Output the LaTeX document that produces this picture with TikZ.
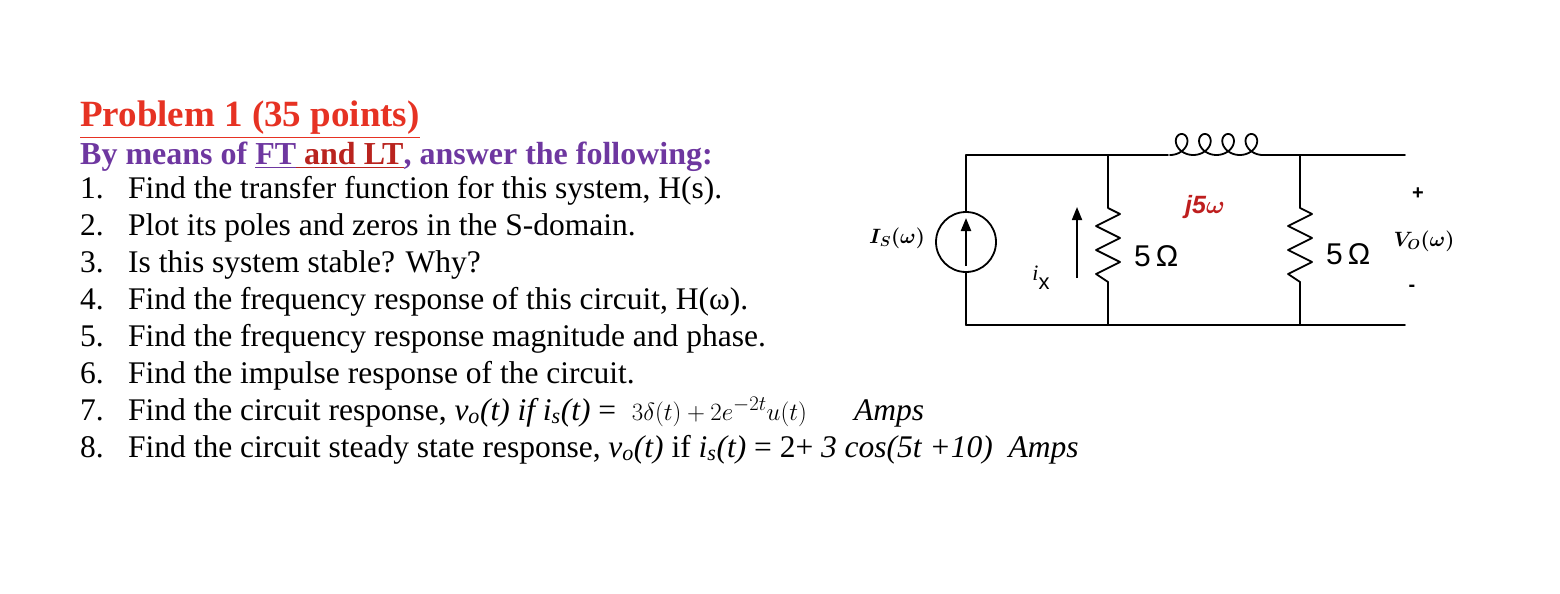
\documentclass[tikz,border=0pt]{standalone}
\usepackage{amsmath}
\usepackage{fontspec}
\setmainfont{Liberation Serif}
\newfontfamily\sansf{Liberation Sans}
\usetikzlibrary{arrows.meta}
\definecolor{tred}{RGB}{230,50,35}
\definecolor{tpurp}{RGB}{110,55,160}
\definecolor{lred}{RGB}{185,35,30}
\definecolor{ired}{RGB}{190,30,30}
\begin{document}
\begin{tikzpicture}[x=1pt,y=-1pt,
  txt/.style={anchor=base west,inner sep=0pt,font=\fontsize{31.5}{34}\selectfont},
  wire/.style={line width=1.8pt,line cap=round,line join=round},
  lab/.style={inner sep=0pt,font=\sansf\fontsize{30}{32}\selectfont}]
\useasboundingbox (0,0) rectangle (1560,594);
\node[txt,text=tred,font=\bfseries\fontsize{37}{40}\selectfont] (title) at (80,126) {\underline{Problem 1 (35 points)}};
\node[txt,text=tpurp,font=\bfseries\fontsize{32}{34}\selectfont] (sub) at (80,164) {By means of \underline{FT}\textcolor{lred}{\underline{ and LT}}, answer the following:};
\foreach \n/\y/\t in {1/198/{Find the transfer function for this system, H(s).},
 2/235/{Plot its poles and zeros in the S-domain.},
 3/272/{Is this system stable? Why?},
 4/309/{Find the frequency response of this circuit, H(ω).},
 5/346/{Find the frequency response magnitude and phase.},
 6/383/{Find the impulse response of the circuit.}}{
 \node[txt] (n\n) at (80,\y) {\n.};
 \node[txt] (t\n) at (128,\y) {\t};
}
\node[txt] (n7) at (80,420) {7.};
\node[txt] (t7) at (128,420) {Find the circuit response, \textit{v\textsubscript{o}(t) if i\textsubscript{s}(t)} = \ $3\delta(t)+2e^{-2t}u(t)$ \quad\ \textit{Amps}};
\node[txt] (n8) at (80,457) {8.};
\node[txt] (t8) at (128,457) {Find the circuit steady state response, \textit{v\textsubscript{o}(t)} if \textit{i\textsubscript{s}(t)} = 2+ \textit{3 cos(5t +10)\ \ Amps}};
% circuit
\coordinate (tl) at (966,155); \coordinate (bl) at (966,325);
\coordinate (tr) at (1405,155); \coordinate (br) at (1405,325);
\node[draw,circle,line width=1.8pt,minimum size=60pt,inner sep=0pt] (src) at (966,242) {};
\draw[wire] (tl) -- (src.north); \draw[wire] (src.south) -- (bl);
\draw[line width=2.2pt,-{Triangle[length=13pt,width=10pt]}] (966,266) -- (966,218);
\draw[wire] (tl) -- (1168,155);
\draw[wire] plot[domain=0:25.13,samples=300,smooth] ({1170+3.7*\x+11*sin(\x r)},{155-10.5*(1-cos(\x r))});
\draw[wire] (1263,155) -- (tr);
\draw[wire] (bl) -- (br);
\foreach \x/\nm in {1108/ra,1300/rb}{
 \draw[wire] (\x,155) -- (\x,208) -- (\x+12,214) -- (\x-12,226) -- (\x+12,238) -- (\x-12,250) -- (\x+12,262) -- (\x-12,274) -- (\x,282) -- (\x,325);
}
\draw[line width=1.8pt,-{Triangle[length=13pt,width=10pt]}] (1077,278) -- (1077,207);
\node[inner sep=0pt,font=\sansf\fontsize{22}{24}\selectfont] (ix) at (1041,278) {$\mathit{i}$\raisebox{-9pt}{\sansf x}};
\node[lab,anchor=west] (r1) at (1134,256) {5\,Ω};
\node[lab,anchor=west] (r2) at (1326,254) {5\,Ω};
\node[inner sep=0pt,text=ired,font=\sansf\bfseries\itshape\fontsize{25}{28}\selectfont] (jw) at (1205,207) {j5$\boldsymbol{\omega}$};
\node[inner sep=0pt,font=\fontsize{20}{22}\selectfont] (is) at (897,238) {$\boldsymbol{I_S(\omega)}$};
\node[inner sep=0pt,font=\fontsize{20}{22}\selectfont] (vo) at (1424,241) {$\boldsymbol{V_O(\omega)}$};
\node[inner sep=0pt,font=\sansf\bfseries\fontsize{20}{22}\selectfont] (pl) at (1418,194) {+};
\node[inner sep=0pt,font=\sansf\bfseries\fontsize{20}{22}\selectfont] (mi) at (1412,288) {-};
\end{tikzpicture}
\end{document}
